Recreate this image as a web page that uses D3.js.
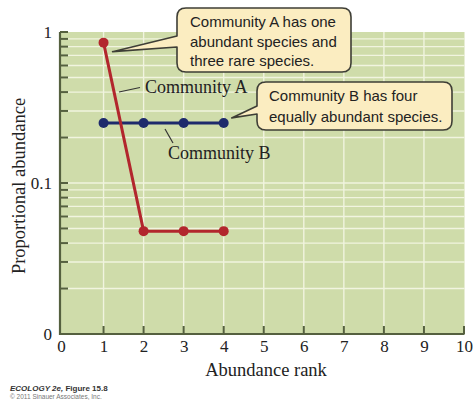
<!DOCTYPE html>
<html>
<head>
<meta charset="utf-8">
<script src="https://cdn.jsdelivr.net/npm/d3@7"></script>
<style>
  html, body { margin: 0; padding: 0; background: #ffffff; }
  svg { display: block; }
</style>
</head>
<body>
<svg id="chart" width="474" height="401"></svg>
<script>
// ---------- data ----------
const ranks = [1, 2, 3, 4];
const communityA = [0.85, 0.048, 0.048, 0.048];
const communityB = [0.25, 0.25, 0.25, 0.25];
const xTicks = [0, 1, 2, 3, 4, 5, 6, 7, 8, 9, 10];
const yMajorTicks = [0.01, 0.1, 1];
const yTickLabels = ["0", "0.1", "1"];
const yMinorTicks = [0.02, 0.03, 0.04, 0.05, 0.06, 0.07, 0.08, 0.09,
                     0.2, 0.3, 0.4, 0.5, 0.6, 0.7, 0.8, 0.9];
const calloutA = ["Community A has one", "abundant species and", "three rare species."];
const calloutB = ["Community B has four", "equally abundant species."];
const seriesNames = ["Community A", "Community B"];

// ---------- layout ----------
const svg = d3.select("#chart");
const plotLeft = 60, plotRight = 464.5, plotTop = 32, plotBottom = 334;
const x = d3.scaleLinear().domain([0, 10]).range([63.5, 464]);
const y = d3.scaleLog().domain([0.01, 1]).range([plotBottom, plotTop]);

const green = "#cfdcaa";
const gridCol = "#f3f6e2";
const axisCol = "#55603f";
const red = "#b2262d";
const blue = "#1e2a6c";
const cream = "#fbedc1";
const serif = "'Liberation Serif', 'Times New Roman', serif";
const sans = "'Liberation Sans', Arial, sans-serif";

// background
svg.append("rect")
  .attr("x", plotLeft).attr("y", plotTop)
  .attr("width", plotRight - plotLeft).attr("height", plotBottom - plotTop)
  .attr("fill", green);

// gridlines
const grid = svg.append("g").attr("stroke", gridCol).attr("stroke-width", 1.4).attr("opacity", 0.95);
grid.selectAll("line.h").data(yMinorTicks.concat([0.1])).join("line")
  .attr("x1", plotLeft).attr("x2", plotRight)
  .attr("y1", d => y(d)).attr("y2", d => y(d));
grid.selectAll("line.v").data(xTicks.filter(d => d > 0 && d < 10)).join("line")
  .attr("x1", d => x(d)).attr("x2", d => x(d))
  .attr("y1", plotTop).attr("y2", plotBottom);

// x axis
const xAxis = svg.append("g")
  .attr("transform", `translate(0,${plotBottom})`)
  .call(d3.axisBottom(x).tickValues(xTicks).tickSize(0).tickPadding(6).tickFormat(d3.format("d")));
xAxis.select(".domain").remove();
xAxis.selectAll("text").attr("font-family", serif).attr("font-size", 17).attr("fill", "#222");
xAxis.selectAll("text").filter(d => d === 0).attr("dx", -2.5);
// x inner ticks
svg.append("g").selectAll("line").data(xTicks.filter(d => d > 0 && d < 10.5)).join("line")
  .attr("x1", d => x(d)).attr("x2", d => x(d))
  .attr("y1", plotBottom).attr("y2", plotBottom - 8)
  .attr("stroke", axisCol).attr("stroke-width", 2);

// y axis
const yAxis = svg.append("g")
  .attr("transform", `translate(${plotLeft},0)`)
  .call(d3.axisLeft(y).tickValues(yMajorTicks).tickSize(0).tickPadding(8)
        .tickFormat((d, i) => yTickLabels[i]));
yAxis.select(".domain").remove();
yAxis.selectAll("text").attr("font-family", serif).attr("font-size", 17).attr("fill", "#222");
// y inner ticks
svg.append("g").selectAll("line").data(yMinorTicks.concat([0.1, 1])).join("line")
  .attr("x1", plotLeft).attr("x2", plotLeft + 8)
  .attr("y1", d => y(d)).attr("y2", d => y(d))
  .attr("stroke", axisCol).attr("stroke-width", 2);

// axis lines
svg.append("path")
  .attr("d", `M${plotLeft},${plotTop} V${plotBottom} H${plotRight}`)
  .attr("fill", "none").attr("stroke", axisCol).attr("stroke-width", 2.2);

// axis titles
svg.append("text")
  .attr("x", 266).attr("y", 376)
  .attr("text-anchor", "middle")
  .attr("font-family", serif).attr("font-size", 18.5).attr("fill", "#222")
  .text("Abundance rank");
svg.append("text")
  .attr("transform", "translate(25,186) rotate(-90)")
  .attr("text-anchor", "middle")
  .attr("font-family", serif).attr("font-size", 18.5).attr("fill", "#222")
  .text("Proportional abundance");

// lines
const line = d3.line().x((d, i) => x(ranks[i])).y(d => y(d));
function drawSeries(vals, col) {
  svg.append("path").datum(vals)
    .attr("d", line).attr("fill", "none")
    .attr("stroke", col).attr("stroke-width", 3).attr("stroke-linejoin", "round");
  svg.append("g").selectAll("circle").data(vals).join("circle")
    .attr("cx", (d, i) => x(ranks[i])).attr("cy", d => y(d))
    .attr("r", 5).attr("fill", col);
}
drawSeries(communityB, blue);
drawSeries(communityA, red);

// series labels with leader lines
svg.append("line")
  .attr("x1", 119).attr("y1", 92).attr("x2", 140).attr("y2", 87.5)
  .attr("stroke", "#333").attr("stroke-width", 1.2);
svg.append("text").attr("x", 145).attr("y", 93)
  .attr("font-family", serif).attr("font-size", 18).attr("fill", "#222")
  .text(seriesNames[0]);

svg.append("line")
  .attr("x1", 165).attr("y1", 129).attr("x2", 173).attr("y2", 143)
  .attr("stroke", "#333").attr("stroke-width", 1.2);
svg.append("text").attr("x", 168).attr("y", 159)
  .attr("font-family", serif).attr("font-size", 18).attr("fill", "#222")
  .text(seriesNames[1]);

// callouts
function callout(x0, y0, x1, y1, pa, pb, tipX, tipY, lines, tx, ty, lh) {
  const r = 9;
  const d = `M${x0 + r},${y0} H${x1 - r} Q${x1},${y0} ${x1},${y0 + r} V${y1 - r} Q${x1},${y1} ${x1 - r},${y1}` +
            ` H${x0 + r} Q${x0},${y1} ${x0},${y1 - r} V${pb} L${tipX},${tipY} L${x0},${pa} V${y0 + r} Q${x0},${y0} ${x0 + r},${y0} Z`;
  svg.append("path").attr("d", d)
    .attr("fill", cream).attr("stroke", "#3e3e36").attr("stroke-width", 1.6)
    .attr("stroke-linejoin", "round");
  svg.append("g").selectAll("text").data(lines).join("text")
    .attr("x", tx).attr("y", (dd, i) => ty + i * lh)
    .attr("font-family", sans).attr("font-size", 15).attr("fill", "#222")
    .text(dd => dd);
}
callout(177, 8, 351, 72, 36, 47,
        x(ranks[0]) + 9, y(communityA[0]) + 9,
        calloutA, 190, 27, 19.5);
callout(257, 82, 452, 130, 106, 114,
        x(ranks[3]) + 8, y(communityB[3]) - 5,
        calloutB, 269, 100.5, 21.5);

// footer
svg.append("text").attr("x", 10).attr("y", 391)
  .attr("font-family", sans).attr("font-size", 8).attr("font-weight", "bold").attr("fill", "#333")
  .html('<tspan font-style="italic">ECOLOGY 2e,</tspan> Figure 15.8');
svg.append("text").attr("x", 10).attr("y", 399)
  .attr("font-family", sans).attr("font-size", 6.5).attr("fill", "#777")
  .text("© 2011 Sinauer Associates, Inc.");
</script>
</body>
</html>
